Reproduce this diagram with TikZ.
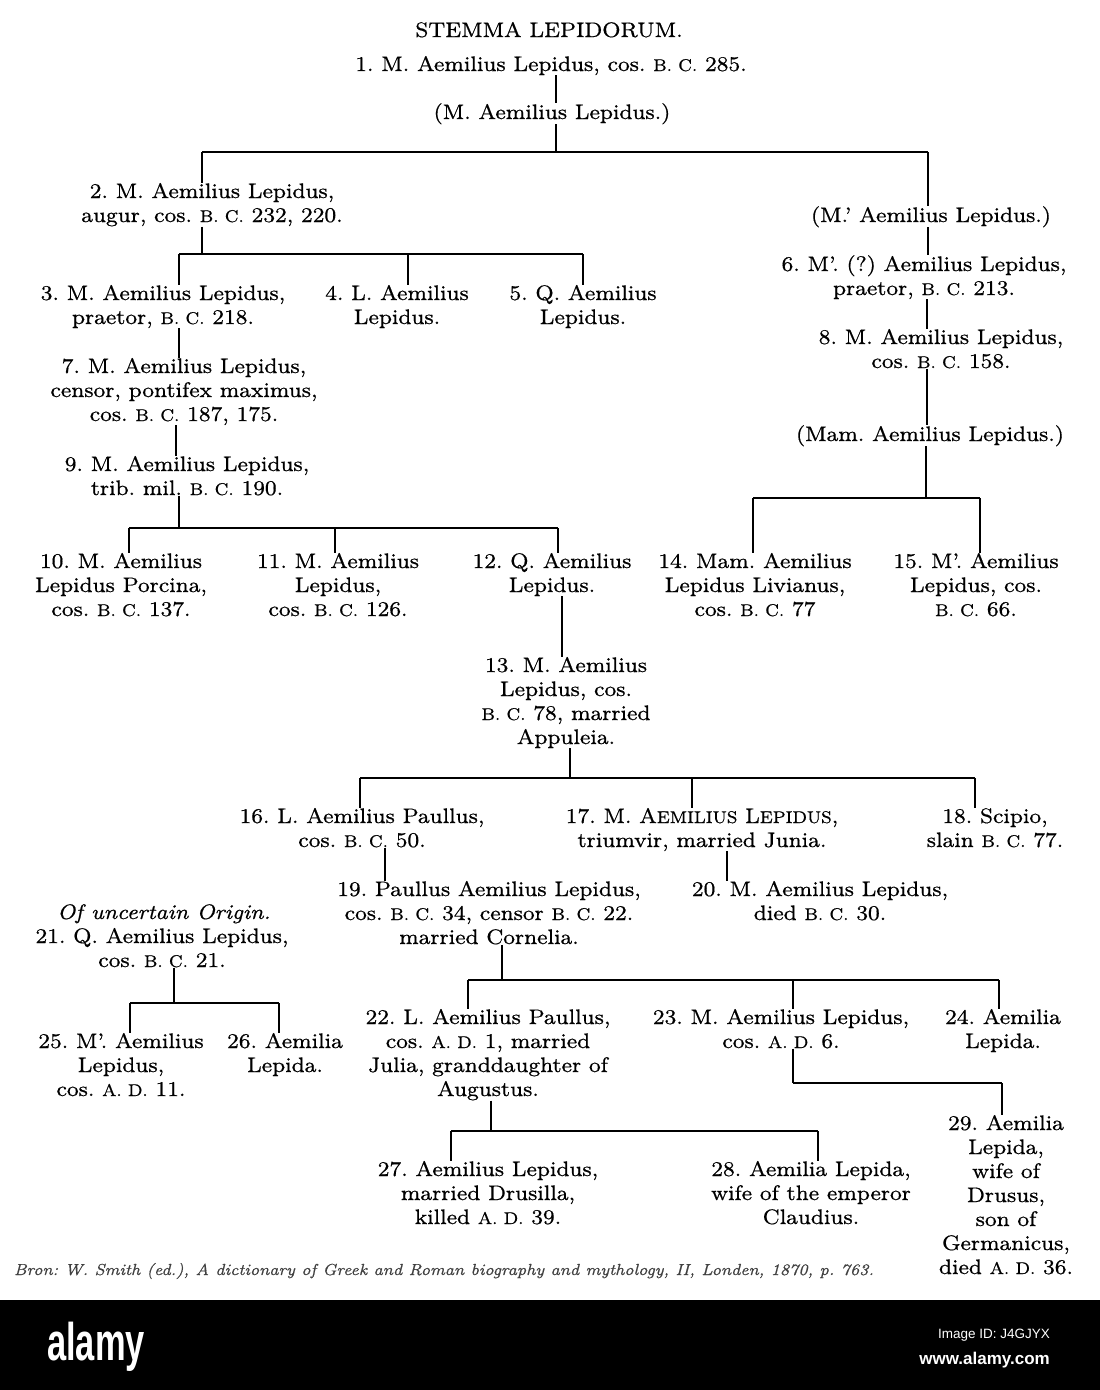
\documentclass[tikz,border=0pt]{standalone}
\usepackage{fontspec}
\setmainfont{lmroman8-regular.otf}[ItalicFont=lmroman8-italic.otf, BoldFont=lmroman8-bold.otf, FakeStretch=1.05, FakeBold=0.6]
\newfontfamily\bandfont{Liberation Sans}
\newfontfamily\logofont{Liberation Sans}[FakeStretch=0.65]
\usepackage{tikz}
\frenchspacing

% small capitals of the old print (B. C., A. D.)
\newcommand{\smc}[1]{{\fontsize{17}{17}\selectfont #1}}

\begin{document}
\begin{tikzpicture}[
    x=1pt, y=-1pt,
    person/.style={align=center, inner sep=0pt, anchor=base, font=\fontsize{21}{24}\selectfont},
    stem/.style={line width=1.2pt},
    bar/.style={line width=2.2pt},
    note/.style={inner sep=0pt, anchor=base, font=\fontsize{16}{16}\selectfont\itshape, text=black!75}
]
\useasboundingbox (0,0) rectangle (1100,1390);

% title and first generations (y = baseline of the last line)
\node[person] (title) at (549,37) {STEMMA LEPIDORUM.};
\node[person] (p1) at (551,71) {1. M. Aemilius Lepidus, cos. \smc{B. C.} 285.};
\node[person] (pa) at (552,119) {(M. Aemilius Lepidus.)};
\node[person] (p2) at (212,222) {2. M. Aemilius Lepidus,\\augur, cos. \smc{B. C.} 232, 220.};
\node[person] (pb) at (931,222) {(M.’ Aemilius Lepidus.)};

% left branch
\node[person] (p3) at (163,324) {3. M. Aemilius Lepidus,\\praetor, \smc{B. C.} 218.};
\node[person] (p4) at (397,324) {4. L. Aemilius\\Lepidus.};
\node[person] (p5) at (583,324) {5. Q. Aemilius\\Lepidus.};
\node[person] (p7) at (184,421) {7. M. Aemilius Lepidus,\\censor, pontifex maximus,\\cos. \smc{B. C.} 187, 175.};
\node[person] (p9) at (187,495) {9. M. Aemilius Lepidus,\\trib. mil. \smc{B. C.} 190.};
\node[person] (p10) at (121,616) {10. M. Aemilius\\Lepidus Porcina,\\cos. \smc{B. C.} 137.};
\node[person] (p11) at (338,616) {11. M. Aemilius\\Lepidus,\\cos. \smc{B. C.} 126.};
\node[person] (p12) at (552,592) {12. Q. Aemilius\\Lepidus.};
\node[person] (p13) at (566,744) {13. M. Aemilius\\Lepidus, cos.\\\smc{B. C.} 78, married\\Appuleia.};

% right branch
\node[person] (p6) at (924,295) {6. M’. (?) Aemilius Lepidus,\\praetor, \smc{B. C.} 213.};
\node[person] (p8) at (941,368) {8. M. Aemilius Lepidus,\\cos. \smc{B. C.} 158.};
\node[person] (pc) at (930,441) {(Mam. Aemilius Lepidus.)};
\node[person] (p14) at (755,616) {14. Mam. Aemilius\\Lepidus Livianus,\\cos. \smc{B. C.} 77};
\node[person] (p15) at (976,616) {15. M’. Aemilius\\Lepidus, cos.\\\smc{B. C.} 66.};

% children of 13
\node[person] (p16) at (362,847) {16. L. Aemilius Paullus,\\cos. \smc{B. C.} 50.};
\node[person] (p17) at (702,847) {17. M. A\smc{EMILIUS} L\smc{EPIDUS},\\triumvir, married Junia.};
\node[person] (p18) at (995,847) {18. Scipio,\\slain \smc{B. C.} 77.};
\node[person] (p19) at (489,944) {19. Paullus Aemilius Lepidus,\\cos. \smc{B. C.} 34, censor \smc{B. C.} 22.\\married Cornelia.};
\node[person] (p20) at (820,920) {20. M. Aemilius Lepidus,\\died \smc{B. C.} 30.};

% of uncertain origin
\node[person] (origin) at (164,919) {\itshape Of uncertain Origin.};
\node[person] (p21) at (162,967) {21. Q. Aemilius Lepidus,\\cos. \smc{B. C.} 21.};
\node[person] (p25) at (121,1096) {25. M’. Aemilius\\Lepidus,\\cos. \smc{A. D.} 11.};
\node[person] (p26) at (285,1072) {26. Aemilia\\Lepida.};

% children of 19
\node[person] (p22) at (488,1096) {22. L. Aemilius Paullus,\\cos. \smc{A. D.} 1, married\\Julia, granddaughter of\\Augustus.};
\node[person] (p23) at (781,1048) {23. M. Aemilius Lepidus,\\cos. \smc{A. D.} 6.};
\node[person] (p24) at (1003,1048) {24. Aemilia\\Lepida.};
\node[person] (p27) at (488,1224) {27. Aemilius Lepidus,\\married Drusilla,\\killed \smc{A. D.} 39.};
\node[person] (p28) at (811,1224) {28. Aemilia Lepida,\\wife of the emperor\\Claudius.};
\node[person] (p29) at (1006,1274) {29. Aemilia\\Lepida,\\wife of\\Drusus,\\son of\\Germanicus,\\died \smc{A. D.} 36.};

\node[note] (source) at (444,1275) {Bron: W. Smith (ed.), A dictionary of Greek and Roman biography and mythology, II, Londen, 1870, p. 763.};

% bar ends
\coordinate (ja) at (556,152);  \coordinate (ja-l) at (202,152);  \coordinate (ja-r) at (928,152);
\coordinate (jb) at (202,254);  \coordinate (jb-l) at (179,254);  \coordinate (jb-m) at (408,254);  \coordinate (jb-r) at (583,254);
\coordinate (jc) at (926,498);  \coordinate (jc-l) at (753,498);  \coordinate (jc-r) at (980,498);
\coordinate (jd) at (179,528);  \coordinate (jd-l) at (129,528);  \coordinate (jd-m) at (335,528);  \coordinate (jd-r) at (558,528);
\coordinate (je) at (570,778);  \coordinate (je-l) at (360,778);  \coordinate (je-m) at (692,778);  \coordinate (je-r) at (975,778);
\coordinate (jf) at (502,980);  \coordinate (jf-l) at (468,980);  \coordinate (jf-m) at (793,980);  \coordinate (jf-r) at (999,980);
\coordinate (jg) at (174,1003); \coordinate (jg-l) at (130,1003); \coordinate (jg-r) at (279,1003);
\coordinate (jh) at (491,1131); \coordinate (jh-l) at (451,1131); \coordinate (jh-r) at (818,1131);
\coordinate (ji-l) at (793,1083); \coordinate (ji-r) at (1002,1083);

% single descents
\draw[stem] ([xshift=5pt]p1.south) -- ([xshift=5pt]p1.south |- pa.north);
\draw[stem] ([xshift=-3pt]pb.south) -- ([xshift=-3pt]pb.south |- p6.north);
\draw[stem] ([xshift=3pt]p6.south) -- ([xshift=3pt]p6.south |- p8.north);
\draw[stem] ([xshift=-14pt]p8.south) -- ([xshift=-14pt]p8.south |- pc.north);
\draw[stem] ([xshift=16pt]p3.south) -- ([xshift=16pt]p3.south |- p7.north);
\draw[stem] ([xshift=-8pt]p7.south) -- ([xshift=-8pt]p7.south |- p9.north);
\draw[stem] ([xshift=10pt]p12.south) -- ([xshift=10pt]p12.south |- p13.north);
\draw[stem] ([xshift=23pt]p16.south) -- ([xshift=23pt]p16.south |- p19.north);
\draw[stem] ([xshift=25pt]p17.south) -- ([xshift=25pt]p17.south |- p20.north);

% families
\draw[stem] (pa.south -| ja) -- (ja);
\draw[bar] (ja-l) -- (ja-r);
\draw[stem] (ja-l) -- (ja-l |- p2.north);
\draw[stem] (ja-r) -- (ja-r |- pb.north);

\draw[stem] (p2.south -| jb) -- (jb);
\draw[bar] (jb-l) -- (jb-r);
\draw[stem] (jb-l) -- (jb-l |- p3.north);
\draw[stem] (jb-m) -- (jb-m |- p4.north);
\draw[stem] (jb-r) -- (jb-r |- p5.north);

\draw[stem] (pc.south -| jc) -- (jc);
\draw[bar] (jc-l) -- (jc-r);
\draw[stem] (jc-l) -- (jc-l |- p14.north);
\draw[stem] (jc-r) -- (jc-r |- p15.north);

\draw[stem] (p9.south -| jd) -- (jd);
\draw[bar] (jd-l) -- (jd-r);
\draw[stem] (jd-l) -- (jd-l |- p10.north);
\draw[stem] (jd-m) -- (jd-m |- p11.north);
\draw[stem] (jd-r) -- (jd-r |- p12.north);

\draw[stem] (p13.south -| je) -- (je);
\draw[bar] (je-l) -- (je-r);
\draw[stem] (je-l) -- (je-l |- p16.north);
\draw[stem] (je-m) -- (je-m |- p17.north);
\draw[stem] (je-r) -- (je-r |- p18.north);

\draw[stem] (p19.south -| jf) -- (jf);
\draw[bar] (jf-l) -- (jf-r);
\draw[stem] (jf-l) -- (jf-l |- p22.north);
\draw[stem] (jf-m) -- (jf-m |- p23.north);
\draw[stem] (jf-r) -- (jf-r |- p24.north);

\draw[stem] (p21.south -| jg) -- (jg);
\draw[bar] (jg-l) -- (jg-r);
\draw[stem] (jg-l) -- (jg-l |- p25.north);
\draw[stem] (jg-r) -- (jg-r |- p26.north);

\draw[stem] (p22.south -| jh) -- (jh);
\draw[bar] (jh-l) -- (jh-r);
\draw[stem] (jh-l) -- (jh-l |- p27.north);
\draw[stem] (jh-r) -- (jh-r |- p28.north);

\draw[stem] (p23.south -| ji-l) -- (ji-l);
\draw[bar] (ji-l) -- (ji-r);
\draw[stem] (ji-r) -- (ji-r |- p29.north);

% stock band
\fill[black] (0,1300) rectangle (1100,1390);
\node[inner sep=0pt, anchor=base west, text=white, font=\logofont\bfseries\fontsize{53}{53}\selectfont] (logo) at (47,1360) {alamy};
\node[inner sep=0pt, anchor=base east, text=white, font=\bandfont\fontsize{13.5}{13.5}\selectfont] (imgid) at (1050,1338) {Image ID: J4GJYX};
\node[inner sep=0pt, anchor=base east, text=white, font=\bandfont\bfseries\fontsize{17}{17}\selectfont] (site) at (1050,1364) {www.alamy.com};
\end{tikzpicture}
\end{document}
